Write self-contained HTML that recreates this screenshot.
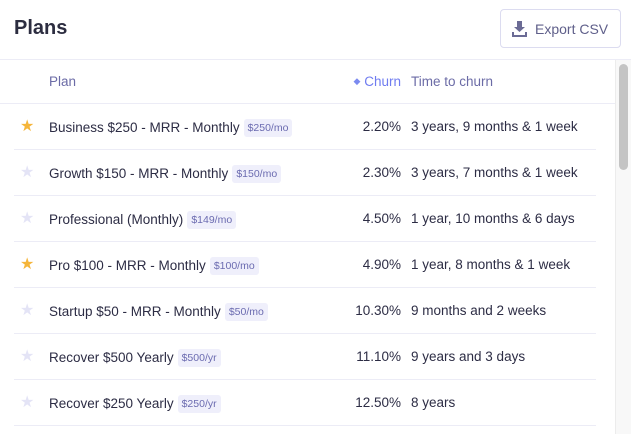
<!DOCTYPE html>
<html><head><style>
*{margin:0;padding:0;box-sizing:border-box}
body{width:631px;height:434px;background:#fff;font-family:"Liberation Sans",sans-serif;position:relative;overflow:hidden;color:#2c2c44}
.t{position:absolute;white-space:nowrap}
.title{left:14px;top:17px;font-size:20px;font-weight:bold;color:#2c2d40}
.btn{position:absolute;left:500px;top:9px;width:121px;height:39px;border:1px solid #dcdcf0;border-radius:4px}
.btn span{position:absolute;left:34px;top:11px;font-size:14px;color:#5f5f8a}
.hl{position:absolute;height:1px;background:#ececf6}
.h{top:74px;font-size:13.5px;color:#6b6ba6}
.row{position:absolute;left:0;width:600px;height:46px}
.star{position:absolute;left:20px;top:16px;font-size:16px;line-height:16px}
.name{position:absolute;left:49px;top:16px;font-size:13.5px;color:#2c2c44}
.tag{display:inline-block;margin-left:4px;font-size:10.5px;color:#6b6bb0;background:#efeffb;border-radius:3px;padding:3px 4px;vertical-align:1px}
.ch{position:absolute;right:199px;top:16px;font-size:13.5px}
.tm{position:absolute;left:411px;top:16px;font-size:13.5px}
</style></head><body>
<div class="t title">Plans</div>
<div class="btn"><svg style="position:absolute;left:11px;top:11px" width="15" height="16" viewBox="0 0 15 16"><path d="M5 0h5v6h3l-5.5 5L2 6h3z" fill="#6b6b95"/><path d="M0 11h2v3h11v-3h2v5H0z" fill="#6b6b95"/></svg><span>Export CSV</span></div>
<div class="hl" style="left:0;top:59px;width:631px"></div>
<div class="t h" style="left:49px">Plan</div>
<div class="t h" style="right:230px;color:#6f7cf0"><span style="font-size:9px;color:#7b8af0;vertical-align:2px">◆</span> Churn</div>
<div class="t h" style="left:411px">Time to churn</div>
<div class="hl" style="left:0;top:103px;width:615px"></div>
<div style="position:absolute;left:615px;top:60px;width:16px;height:374px;background:#f8f8f8;border-left:1px solid #ececec"></div>
<div style="position:absolute;left:619px;top:64px;width:9px;height:106px;background:#c4c4c4;border-radius:5px"></div>

<div class="row" style="top:103px"><span class="star" style="color:#f5b53a">★</span><div class="name">Business $250 - MRR - Monthly<span class="tag">$250/mo</span></div><div class="ch">2.20%</div><div class="tm">3 years, 9 months &amp; 1 week</div></div>
<div class="hl" style="left:14px;top:149px;width:582px"></div>
<div class="row" style="top:149px"><span class="star" style="color:#e4e4f6">★</span><div class="name">Growth $150 - MRR - Monthly<span class="tag">$150/mo</span></div><div class="ch">2.30%</div><div class="tm">3 years, 7 months &amp; 1 week</div></div>
<div class="hl" style="left:14px;top:195px;width:582px"></div>
<div class="row" style="top:195px"><span class="star" style="color:#e4e4f6">★</span><div class="name">Professional (Monthly)<span class="tag">$149/mo</span></div><div class="ch">4.50%</div><div class="tm">1 year, 10 months &amp; 6 days</div></div>
<div class="hl" style="left:14px;top:241px;width:582px"></div>
<div class="row" style="top:241px"><span class="star" style="color:#f5b53a">★</span><div class="name">Pro $100 - MRR - Monthly<span class="tag">$100/mo</span></div><div class="ch">4.90%</div><div class="tm">1 year, 8 months &amp; 1 week</div></div>
<div class="hl" style="left:14px;top:287px;width:582px"></div>
<div class="row" style="top:287px"><span class="star" style="color:#e4e4f6">★</span><div class="name">Startup $50 - MRR - Monthly<span class="tag">$50/mo</span></div><div class="ch">10.30%</div><div class="tm">9 months and 2 weeks</div></div>
<div class="hl" style="left:14px;top:333px;width:582px"></div>
<div class="row" style="top:333px"><span class="star" style="color:#e4e4f6">★</span><div class="name">Recover $500 Yearly<span class="tag">$500/yr</span></div><div class="ch">11.10%</div><div class="tm">9 years and 3 days</div></div>
<div class="hl" style="left:14px;top:379px;width:582px"></div>
<div class="row" style="top:379px"><span class="star" style="color:#e4e4f6">★</span><div class="name">Recover $250 Yearly<span class="tag">$250/yr</span></div><div class="ch">12.50%</div><div class="tm">8 years</div></div>
<div class="hl" style="left:14px;top:425px;width:582px"></div>
</body></html>
